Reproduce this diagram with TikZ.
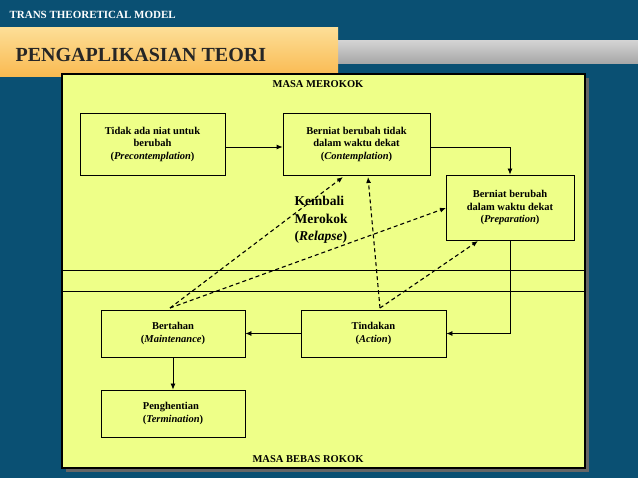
\documentclass[tikz,border=0pt]{standalone}
\usepackage{fontspec}
\setmainfont{Liberation Serif}
\usetikzlibrary{arrows.meta}
\definecolor{bgblue}{RGB}{10,80,115}
\definecolor{panel}{RGB}{238,255,136}
\definecolor{orA}{RGB}{253,222,150}
\definecolor{orB}{RGB}{249,185,80}
\begin{document}
\begin{tikzpicture}[x=1pt,y=-1pt,
  box/.style={draw,line width=0.8pt,fill=panel,align=center,font=\bfseries\fontsize{10.5}{12.5}\selectfont},
  arr/.style={-{Latex[length=6pt,width=5pt]},line width=0.8pt},
  darr/.style={-{Latex[length=6pt,width=5pt]},line width=1.1pt,dash pattern=on 4pt off 3pt}]
\fill[bgblue] (0,0) rectangle (638,478);
\useasboundingbox (0,0) rectangle (638,478);
\node[anchor=west,text=white,font=\bfseries\fontsize{11}{13}\selectfont] (hdr) at (6,15) {TRANS THEORETICAL MODEL};
\shade[top color=gray!35,bottom color=gray!70] (338,41) rectangle (638,64);
\shade[top color=orA,bottom color=orB] (0,28) rectangle (338,77);
\node[anchor=west,text=black!85,font=\bfseries\fontsize{20}{24}\selectfont] (ttl) at (12,55) {PENGAPLIKASIAN TEORI};
\fill[black!60] (66,78) rectangle (589,472);
\draw[fill=panel,line width=2.5pt] (62,74) rectangle (585,468);
\draw[line width=0.8pt] (62,270) -- (585,270) (62,291) -- (585,291);
\node[font=\bfseries\fontsize{10.5}{12}\selectfont] (mm) at (318,84) {MASA MEROKOK};
\node[font=\bfseries\fontsize{10.5}{12}\selectfont] (mb) at (308,459) {MASA BEBAS ROKOK};
\node[box,minimum width=145pt,minimum height=62pt] (pre) at (152.5,144) {Tidak ada niat untuk\\berubah\\(\textit{Precontemplation})};
\node[box,minimum width=147pt,minimum height=62pt] (con) at (356.5,144) {Berniat berubah tidak\\dalam waktu dekat\\(\textit{Contemplation})};
\node[box,minimum width=128pt,minimum height=65pt] (pre2) at (510,207.5) {Berniat berubah\\dalam waktu dekat\\(\textit{Preparation})};
\node[box,minimum width=144pt,minimum height=47pt] (mai) at (173,333.5) {Bertahan\\(\textit{Maintenance})};
\node[box,minimum width=145pt,minimum height=47pt] (act) at (373.5,333.5) {Tindakan\\(\textit{Action})};
\node[box,minimum width=144pt,minimum height=47pt,align=left] (ter) at (173,413.5) {Penghentian\\(\textit{Termination})};
\node[anchor=west,align=left,font=\bfseries\fontsize{13.5}{17.5}\selectfont] (rel) at (291,220) {Kembali\\Merokok\\(\textit{Relapse})};
\draw[arr] (pre.east |- 0,147) -- (con.west |- 0,147);
\draw[arr] (con.east |- 0,147) -| (pre2.north);
\draw[arr] (pre2.south) |- (act.east);
\draw[arr] (act.west) -- (mai.east);
\draw[arr] (mai.south) -- (ter.north);
\coordinate (mt) at (170,308);
\coordinate (at) at (380,308);
\draw[darr] (mt) -- (343,177);
\draw[darr] (mt) -- (446,208);
\draw[darr] (at) -- (368,177);
\draw[darr] (at) -- (478,241);
\end{tikzpicture}
\end{document}
